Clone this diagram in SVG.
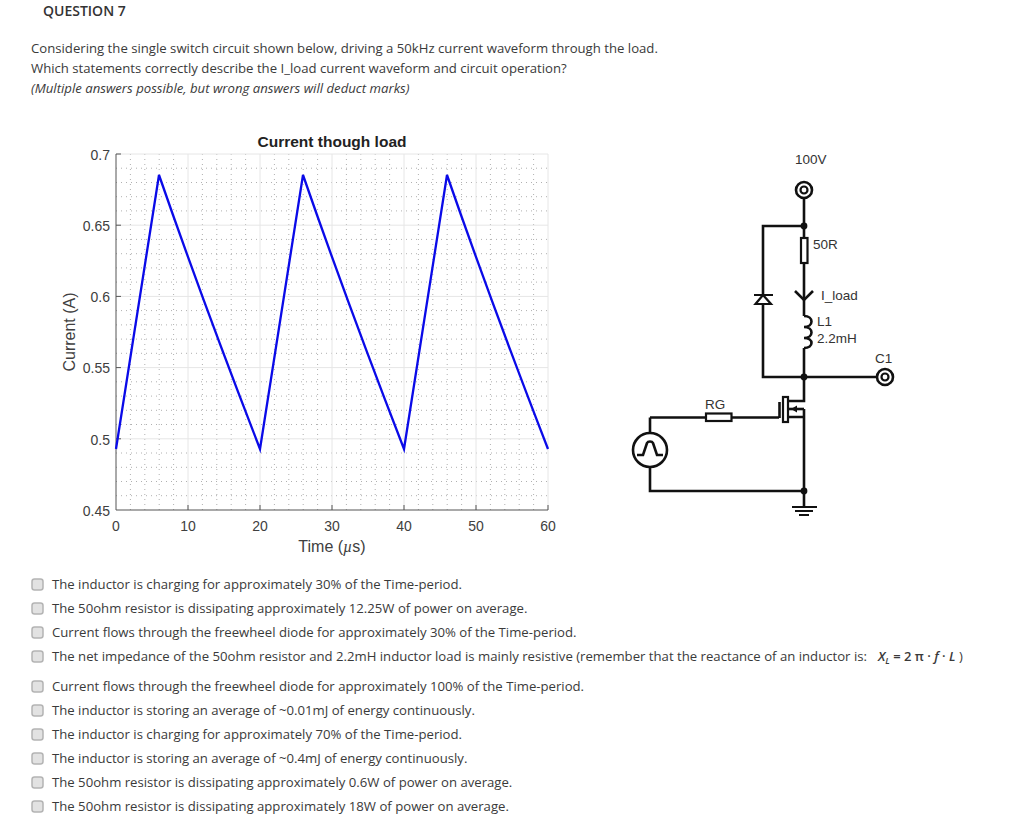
<svg xmlns="http://www.w3.org/2000/svg" width="1024" height="827" viewBox="0 0 1024 827">
<style>
.q{font-family:"Open Sans",sans-serif;font-size:13.17px;fill:#3a3a3a}
.p{font-family:"Liberation Sans",Arial,sans-serif;font-size:14px;fill:#404040}
.c{font-family:"Liberation Sans",Arial,sans-serif;font-size:13.500px;fill:#333}
.w{fill:none;stroke:#111;stroke-width:2.600}
.maj{stroke:#e6e6e6;stroke-width:1;fill:none}
.min{stroke:#b0b0b0;stroke-width:1;stroke-dasharray:1 4;fill:none}
.cb{fill:#e2e2e2;stroke:#b4b4b4;stroke-width:1.500}
.dot{fill:#111}
</style>
<rect width="1024" height="827" fill="#fff"/>
<text x="43" y="16" font-family="Open Sans, sans-serif" font-size="14" font-weight="600" fill="#333">QUESTION 7</text>
<text x="31" y="53" class="q">Considering the single switch circuit shown below, driving a 50kHz current waveform through the load.</text>
<text x="31" y="73" class="q">Which statements correctly describe the I_load current waveform and circuit operation?</text>
<text x="31" y="93" class="q" font-style="italic">(Multiple answers possible, but wrong answers will deduct marks)</text>

<g id="plot">
<path class="min" d="M130.400 154V510M144.800 154V510M159.200 154V510M173.600 154V510M202.400 154V510M216.800 154V510M231.200 154V510M245.600 154V510M274.400 154V510M288.800 154V510M303.200 154V510M317.600 154V510M346.400 154V510M360.800 154V510M375.200 154V510M389.600 154V510M418.400 154V510M432.800 154V510M447.200 154V510M461.600 154V510M490.400 154V510M504.800 154V510M519.200 154V510M533.600 154V510"/>
<path class="min" d="M116 168.200H548M116 182.500H548M116 196.700H548M116 210.900H548M116 239.400H548M116 253.700H548M116 267.900H548M116 282.100H548M116 310.600H548M116 324.900H548M116 339.100H548M116 353.300H548M116 381.800H548M116 396.100H548M116 410.300H548M116 424.500H548M116 453H548M116 467.300H548M116 481.500H548M116 495.700H548"/>
<path class="maj" d="M188 154V510M260 154V510M332 154V510M404 154V510M476 154V510M548 154V510M116 154H548M116 225.200H548M116 296.400H548M116 367.600H548M116 438.800H548"/>
<path d="M116 154V510H548" fill="none" stroke="#555" stroke-width="1"/>
<path d="M116 154h5M116 225.200h5M116 296.400h5M116 367.600h5M116 438.800h5M188 510v-5M260 510v-5M332 510v-5M404 510v-5M476 510v-5M548 510v-5" fill="none" stroke="#555" stroke-width="1"/>
<path d="M116 449L159 175Q203 302 260 449L303 175Q347 302 404 449L447 175Q491 302 548 449" fill="none" stroke="#0a0ae8" stroke-width="2.300"/>
<text x="332" y="147" text-anchor="middle" font-family="Liberation Sans, sans-serif" font-size="15.500" font-weight="700" fill="#222">Current though load</text>
<g class="p" text-anchor="end">
<text x="110" y="160">0.7</text><text x="110" y="231">0.65</text><text x="110" y="302">0.6</text><text x="110" y="373">0.55</text><text x="110" y="445">0.5</text><text x="110" y="516">0.45</text>
</g>
<g class="p" text-anchor="middle">
<text x="116" y="531">0</text><text x="188" y="531">10</text><text x="260" y="531">20</text><text x="332" y="531">30</text><text x="404" y="531">40</text><text x="476" y="531">50</text><text x="548" y="531">60</text>
</g>
<text x="332" y="552" text-anchor="middle" font-family="Liberation Sans, sans-serif" font-size="16" fill="#404040">Time (<tspan font-family="Liberation Serif, serif" font-style="italic">µ</tspan>s)</text>
<text transform="translate(75 332) rotate(-90)" text-anchor="middle" font-family="Liberation Sans, sans-serif" font-size="16" fill="#404040">Current (A)</text>
</g>

<g id="connectors">
<path class="w" d="M804 198V238M804 263V316M804 348V401H788M804 409V491M804 491V507M804 226H763V295M763 304V377H877M788 417H804V409M650 417.500H706M732 417.500H779M650 417.500V433M650 467V491H804"/>
</g>
<g id="n100V"><circle cx="804" cy="190" r="8" fill="none" stroke="#111" stroke-width="2.600"/><circle cx="804" cy="190" r="3.500" fill="none" stroke="#111" stroke-width="2.200"/><text x="795" y="164" class="c">100V</text></g>
<g id="junctions"><circle class="dot" cx="804" cy="226" r="3.400"/><circle class="dot" cx="804" cy="377" r="3.400"/><circle class="dot" cx="804" cy="491" r="3.400"/></g>
<g id="R50"><rect x="801" y="238" width="6.500" height="25" fill="#fff" stroke="#111" stroke-width="2.200"/><text x="813" y="249" class="c">50R</text></g>
<g id="Iload"><path class="w" d="M795 291L804 300L813 291"/><text x="821" y="300" class="c">I_load</text></g>
<g id="diode"><path d="M754 295H773M763 295L755.500 304H771Z" fill="#fff" stroke="#111" stroke-width="2.200"/></g>
<g id="L1"><path class="w" d="M804 316C814 316 814 327 804 327C814 327 814 338 804 338C814 338 814 348 804 348"/><text x="817" y="326" class="c">L1</text><text x="817" y="343" class="c">2.2mH</text></g>
<g id="C1"><circle cx="885" cy="377" r="8" fill="none" stroke="#111" stroke-width="2.600"/><circle cx="885" cy="377" r="3.500" fill="none" stroke="#111" stroke-width="2.200"/><text x="875" y="363" class="c">C1</text></g>
<g id="mosfet"><path class="w" d="M779.500 402V418"/><rect x="783" y="397" width="5" height="25" fill="#fff" stroke="#111" stroke-width="2.200"/><path class="w" d="M788 409H804"/><path d="M791 409L797 405.500V412.500Z" fill="#111"/></g>
<g id="RG"><rect x="706" y="413.500" width="25.500" height="7.500" fill="#fff" stroke="#111" stroke-width="2.200"/><text x="705" y="409" class="c">RG</text></g>
<g id="source"><circle cx="650" cy="450" r="17" fill="#fff" stroke="#111" stroke-width="2.600"/><path class="w" d="M637 455H643L647 443C648 441 652 441 653 443L657 455H663"/></g>
<g id="ground"><path d="M792 507H817M795 511H813M799 515H809" fill="none" stroke="#111" stroke-width="2.200"/></g>

<g id="answers">
<rect class="cb" x="32" y="579" width="11" height="11" rx="2.500"/><text x="52" y="589" class="q">The inductor is charging for approximately 30% of the Time-period.</text>
<rect class="cb" x="32" y="603" width="11" height="11" rx="2.500"/><text x="52" y="613" class="q">The 50ohm resistor is dissipating approximately 12.25W of power on average.</text>
<rect class="cb" x="32" y="627" width="11" height="11" rx="2.500"/><text x="52" y="637" class="q">Current flows through the freewheel diode for approximately 30% of the Time-period.</text>
<rect class="cb" x="32" y="651" width="11" height="11" rx="2.500"/><text x="52" y="661" class="q">The net impedance of the 50ohm resistor and 2.2mH inductor load is mainly resistive (remember that the reactance of an inductor is:</text>
<text x="878" y="661" font-family="Open Sans, sans-serif" font-size="13" font-weight="600" font-style="italic" fill="#3a3a3a">X<tspan font-size="9" dy="3">L</tspan><tspan dy="-3" font-style="normal"> = 2 π · </tspan>f<tspan font-style="normal"> · </tspan>L<tspan font-style="normal" font-weight="400"> )</tspan></text>
<rect class="cb" x="32" y="681" width="11" height="11" rx="2.500"/><text x="52" y="691" class="q">Current flows through the freewheel diode for approximately 100% of the Time-period.</text>
<rect class="cb" x="32" y="705" width="11" height="11" rx="2.500"/><text x="52" y="715" class="q">The inductor is storing an average of ~0.01mJ of energy continuously.</text>
<rect class="cb" x="32" y="729" width="11" height="11" rx="2.500"/><text x="52" y="739" class="q">The inductor is charging for approximately 70% of the Time-period.</text>
<rect class="cb" x="32" y="753" width="11" height="11" rx="2.500"/><text x="52" y="763" class="q">The inductor is storing an average of ~0.4mJ of energy continuously.</text>
<rect class="cb" x="32" y="777" width="11" height="11" rx="2.500"/><text x="52" y="787" class="q">The 50ohm resistor is dissipating approximately 0.6W of power on average.</text>
<rect class="cb" x="32" y="801" width="11" height="11" rx="2.500"/><text x="52" y="811" class="q">The 50ohm resistor is dissipating approximately 18W of power on average.</text>
</g>
</svg>
